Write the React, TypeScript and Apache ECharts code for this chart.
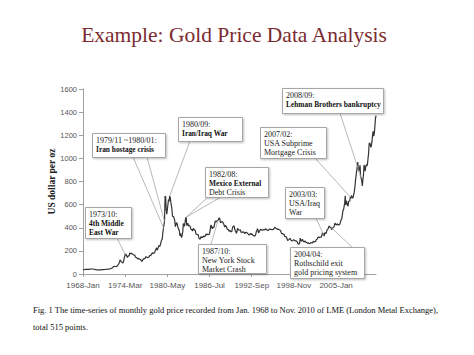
import React, { useEffect, useRef } from 'react';
import * as echarts from 'echarts';

// ---------- data ----------
const monthNames = ['Jan', 'Feb', 'Mar', 'Apr', 'May', 'Jun', 'Jul', 'Aug', 'Sep', 'Oct', 'Nov', 'Dec'];
const firstYear = 1968;
const lastYear = 2010;

const gold1968 = [35.1, 35.2, 37.0, 37.8, 41.0, 41.1, 39.5, 39.3, 39.6, 39.8, 40.3, 41.2];
const gold1969 = [42.3, 42.6, 43.2, 43.4, 43.5, 41.4, 41.8, 41.0, 40.9, 40.4, 37.4, 35.2];
const gold1970 = [34.9, 35.0, 35.1, 35.6, 35.9, 35.4, 35.3, 35.4, 36.2, 37.5, 37.4, 37.4];
const gold1971 = [37.9, 38.7, 38.9, 39.0, 40.5, 40.1, 41.0, 42.7, 42.0, 42.5, 42.9, 43.5];
const gold1972 = [45.7, 48.3, 48.3, 49.0, 54.6, 62.1, 65.7, 67.0, 65.5, 64.9, 62.9, 63.9];
const gold1973 = [65.1, 74.2, 84.4, 90.5, 102.0, 122.5, 120.2, 106.8, 103.0, 100.1, 94.8, 106.7];
const gold1974 = [129.2, 150.2, 168.4, 172.2, 163.3, 154.1, 143.0, 154.6, 151.8, 158.8, 181.7, 183.9];
const gold1975 = [175.8, 180.0, 177.8, 170.0, 167.2, 164.2, 165.2, 163.1, 144.6, 142.8, 142.8, 139.3];
const gold1976 = [131.5, 130.7, 132.6, 128.3, 128.0, 125.5, 117.8, 109.5, 114.0, 116.5, 130.3, 133.9];
const gold1977 = [132.3, 136.3, 148.3, 149.1, 146.5, 140.8, 143.5, 144.8, 149.4, 158.9, 162.1, 160.5];
const gold1978 = [173.2, 178.2, 183.7, 175.3, 176.3, 183.7, 188.7, 206.1, 212.5, 227.1, 206.0, 207.8];
const gold1979 = [227.3, 245.7, 242.1, 239.2, 257.6, 279.1, 294.7, 300.8, 355.1, 391.7, 392.5, 455.1];
const gold1980 = [675.3, 665.3, 553.6, 517.4, 513.8, 600.7, 644.3, 626.5, 673.6, 661.2, 623.5, 594.9];
const gold1981 = [557.5, 500.6, 499.8, 495.8, 479.7, 460.8, 409.3, 410.1, 443.6, 437.8, 413.4, 410.1];
const gold1982 = [384.2, 374.1, 330.5, 350.5, 334.0, 315.0, 338.4, 364.3, 436.9, 422.6, 413.7, 444.3];
const gold1983 = [481.0, 491.8, 419.6, 432.8, 437.4, 413.0, 422.7, 416.3, 412.0, 393.6, 381.8, 388.0];
const gold1984 = [370.9, 386.0, 394.3, 381.0, 377.4, 377.9, 348.1, 347.7, 341.1, 340.2, 341.2, 320.2];
const gold1985 = [302.7, 299.1, 304.0, 324.4, 316.6, 316.2, 317.4, 330.0, 323.5, 326.0, 325.3, 322.3];
const gold1986 = [345.4, 338.9, 345.7, 340.4, 342.4, 342.6, 348.7, 376.5, 417.8, 423.3, 398.5, 391.3];
const gold1987 = [408.3, 401.1, 408.9, 438.4, 460.2, 449.6, 450.5, 460.1, 460.2, 465.4, 467.1, 486.3];
const gold1988 = [477.8, 443.0, 444.1, 452.1, 451.3, 451.5, 437.6, 431.4, 413.6, 406.8, 420.2, 418.6];
const gold1989 = [404.0, 387.0, 390.2, 384.3, 371.0, 367.6, 375.0, 365.4, 362.6, 367.0, 393.6, 409.4];
const gold1990 = [410.1, 416.7, 393.1, 374.2, 369.0, 352.4, 362.5, 394.7, 389.0, 380.7, 381.9, 378.2];
const gold1991 = [383.6, 363.8, 363.3, 358.4, 357.4, 366.7, 367.7, 356.5, 348.8, 358.4, 359.9, 361.0];
const gold1992 = [354.5, 353.9, 344.3, 338.6, 337.2, 340.8, 352.7, 342.9, 345.4, 344.4, 335.0, 334.8];
const gold1993 = [329.0, 329.3, 330.1, 342.2, 367.2, 371.4, 392.0, 379.8, 355.5, 364.2, 373.8, 383.3];
const gold1994 = [387.0, 381.6, 384.1, 377.3, 381.4, 385.6, 385.5, 380.4, 391.6, 389.8, 384.4, 379.3];
const gold1995 = [378.6, 376.5, 382.1, 391.0, 385.1, 387.6, 386.1, 383.5, 383.1, 383.0, 385.5, 387.0];
const gold1996 = [400.0, 404.8, 396.2, 393.0, 391.9, 385.3, 383.5, 387.5, 383.1, 381.2, 377.8, 369.2];
const gold1997 = [355.0, 346.6, 351.8, 344.5, 343.8, 340.8, 324.1, 324.0, 322.8, 324.9, 306.0, 288.7];
const gold1998 = [289.1, 297.5, 295.9, 308.3, 299.4, 292.3, 292.9, 284.1, 289.0, 295.9, 294.1, 291.6];
const gold1999 = [287.2, 287.3, 286.0, 282.4, 276.4, 261.3, 256.2, 256.7, 264.7, 310.7, 293.2, 283.1];
const gold2000 = [284.3, 299.9, 286.4, 279.7, 275.2, 285.7, 281.6, 274.5, 273.7, 270.0, 266.0, 271.5];
const gold2001 = [265.5, 261.9, 263.1, 260.5, 272.4, 270.2, 267.5, 272.4, 283.4, 283.1, 276.2, 275.9];
const gold2002 = [281.7, 295.5, 294.0, 302.7, 314.5, 321.2, 313.3, 310.3, 319.2, 316.6, 319.1, 333.0];
const gold2003 = [356.9, 359.0, 340.6, 328.2, 355.7, 356.4, 351.0, 359.8, 378.9, 378.9, 389.9, 407.6];
const gold2004 = [414.0, 405.3, 406.7, 403.0, 383.8, 392.4, 398.1, 400.5, 405.3, 420.5, 439.4, 442.1];
const gold2005 = [424.0, 423.4, 434.2, 429.2, 421.9, 430.7, 424.5, 437.9, 456.1, 469.9, 476.7, 510.1];
const gold2006 = [549.9, 555.0, 557.1, 610.6, 675.4, 596.2, 633.8, 632.6, 598.2, 585.8, 627.8, 629.8];
const gold2007 = [631.2, 664.8, 654.9, 679.4, 666.9, 655.5, 665.3, 665.4, 712.7, 754.6, 806.2, 803.2];
const gold2008 = [889.6, 922.3, 968.4, 909.7, 888.7, 889.5, 939.8, 839.0, 829.9, 806.6, 760.9, 816.1];
const gold2009 = [858.7, 943.2, 924.3, 890.2, 928.6, 945.7, 934.2, 949.4, 996.6, 1043.2, 1127.0, 1134.7];
const gold2010 = [1117.9, 1095.4, 1113.3, 1148.7, 1205.4, 1232.9, 1193.0, 1215.8, 1270.9, 1342.0, 1369.9];

const goldPrice = [
  ...gold1968, ...gold1969, ...gold1970, ...gold1971, ...gold1972, ...gold1973, ...gold1974,
  ...gold1975, ...gold1976, ...gold1977, ...gold1978, ...gold1979, ...gold1980, ...gold1981,
  ...gold1982, ...gold1983, ...gold1984, ...gold1985, ...gold1986, ...gold1987, ...gold1988,
  ...gold1989, ...gold1990, ...gold1991, ...gold1992, ...gold1993, ...gold1994, ...gold1995,
  ...gold1996, ...gold1997, ...gold1998, ...gold1999, ...gold2000, ...gold2001, ...gold2002,
  ...gold2003, ...gold2004, ...gold2005, ...gold2006, ...gold2007, ...gold2008, ...gold2009,
  ...gold2010,
];

const categories: string[] = [];
for (let y = firstYear; y <= lastYear; y++) {
  for (const m of monthNames) categories.push(`${y}-${m}`);
}
categories.length = goldPrice.length;

const yTicks = { min: 0, max: 1600, interval: 200 };

const titleText = 'Example: Gold Price Data Analysis';
const captionText =
  'Fig. 1 The time-series of monthly gold price recorded from Jan. 1968 to Nov. 2010 of LME (London Metal Exchange),\ntotal 515 points.';

// events: heading, description lines (with bold flags), target months
const eventHeadings = ['1979/11 ~1980/01:', '1980/09:', '1982/08:', '1987/10:', '1973/10:', '2007/02:', '2008/09:', '2003/03:', '2004/04:'];
const eventLines: [string, boolean][][] = [
  [['Iran hostage crisis', true]],
  [['Iran/Iraq War', true]],
  [['Mexico External', true], ['Debt Crisis', false]],
  [['New York Stock', false], ['Market Crash', false]],
  [['4th Middle', true], ['East War', true]],
  [['USA Subprime', false], ['Mortgage Crisis', false]],
  [['Lehman Brothers bankruptcy', true]],
  [['USA/Iraq', false], ['War', false]],
  [['Rothschild exit', false], ['gold pricing system', false]],
];
const eventTargets = [
  ['1979-Nov', '1979-Dec'],
  ['1980-Sep'],
  ['1983-Feb', '1983-Feb'],
  ['1987-Oct'],
  ['1974-Mar'],
  ['2007-Feb'],
  ['2008-Sep'],
  ['2003-Mar'],
  ['2004-Apr'],
];

// ---------- layout (pixels) ----------
const boxLayout = [
  { x: 92, y: 133, w: 73, h: 24, from: [[133, 157], [147, 157]] },
  { x: 178, y: 117, w: 64, h: 24, from: [[190, 141]] },
  { x: 205, y: 167, w: 63, h: 30, from: [[208, 197], [221, 197]] },
  { x: 198, y: 244, w: 68, h: 29, from: [[211, 244]] },
  { x: 85, y: 207, w: 46, h: 31, from: [[117, 238]] },
  { x: 260, y: 127, w: 66, h: 31, from: [[315, 158]] },
  { x: 282, y: 88, w: 101, h: 25, from: [[340, 113]] },
  { x: 285, y: 187, w: 39, h: 31, from: [[316, 218]] },
  { x: 290, y: 247, w: 74, h: 31, from: [[352, 247]] },
];

const SERIF = 'Liberation Serif';
const SANS = 'Liberation Sans';

export default function App() {
  const ref = useRef<HTMLDivElement>(null);

  useEffect(() => {
    document.body.style.margin = '0';
    if (!ref.current) return;
    const chart = echarts.init(ref.current, null, { renderer: 'svg' });

    const markLineData: any[] = [];
    boxLayout.forEach((b, i) => {
      b.from.forEach((p, j) => {
        const cat = eventTargets[i][j];
        const idx = categories.indexOf(cat);
        markLineData.push([{ x: p[0], y: p[1] }, { coord: [cat, goldPrice[idx]] }]);
      });
    });

    const graphics: any[] = [];
    graphics.push({
      type: 'text',
      x: 234,
      y: 35,
      style: {
        text: titleText,
        font: `21.5px ${SERIF}`,
        fill: '#7b2b31',
        align: 'center',
        verticalAlign: 'middle',
      },
    });
    boxLayout.forEach((b, i) => {
      graphics.push({
        type: 'rect',
        z: 100,
        shape: { x: b.x + 0.5, y: b.y + 0.5, width: b.w, height: b.h },
        style: { fill: '#fff', stroke: '#a6a6a6', lineWidth: 1, shadowBlur: 2, shadowColor: 'rgba(0,0,0,0.25)', shadowOffsetX: 1, shadowOffsetY: 1 },
      });
      const lines = [`{r|${eventHeadings[i]}}`, ...eventLines[i].map(([t, bold]) => `{${bold ? 'b' : 'r'}|${t}}`)];
      graphics.push({
        type: 'text',
        z: 101,
        x: b.x + 4,
        y: b.y + 3,
        style: {
          text: lines.join('\n'),
          rich: {
            r: { fontFamily: SERIF, fontSize: 8, lineHeight: 9, fill: '#222' },
            b: { fontFamily: SERIF, fontSize: 7.4, fontWeight: 'bold', lineHeight: 9, fill: '#111' },
          },
        },
      });
    });
    graphics.push({
      type: 'text',
      x: 33,
      y: 301,
      style: {
        text: captionText,
        font: `8.5px ${SERIF}`,
        lineHeight: 17,
        fill: '#111',
      },
    });

    chart.setOption({
      animation: false,
      backgroundColor: '#fff',
      grid: { left: 83, right: 98, top: 89, bottom: 81 },
      xAxis: {
        type: 'category',
        data: categories,
        boundaryGap: false,
        axisLine: { lineStyle: { color: '#a0a0a0' } },
        axisTick: { show: true, interval: 73, length: 3, lineStyle: { color: '#a0a0a0' } },
        axisLabel: { interval: 73, color: '#555', fontFamily: SANS, fontSize: 8, margin: 7 },
      },
      yAxis: {
        type: 'value',
        min: yTicks.min,
        max: yTicks.max,
        interval: yTicks.interval,
        name: 'US dollar per oz',
        nameLocation: 'middle',
        nameRotate: 90,
        nameGap: 26,
        nameMoveOverlap: false,
        nameTextStyle: { fontFamily: SERIF, fontSize: 9.5, fontWeight: 'bold', color: '#222' },
        axisLine: { show: true, lineStyle: { color: '#a0a0a0' } },
        axisTick: { show: true, length: 4, lineStyle: { color: '#a0a0a0' } },
        splitLine: { show: false },
        axisLabel: { color: '#555', fontFamily: SANS, fontSize: 7.5, margin: 6, formatter: (v: number) => String(v) },
      },
      series: [
        {
          type: 'line',
          data: goldPrice,
          showSymbol: false,
          lineStyle: { color: '#333', width: 1.2 },
          markLine: {
            silent: true,
            symbol: ['none', 'none'],
            label: { show: false },
            lineStyle: { color: '#a6a6a6', width: 0.8, type: 'solid' },
            data: markLineData,
          },
        },
      ],
      graphic: graphics,
    });

    return () => chart.dispose();
  }, []);

  return <div ref={ref} style={{ width: 474, height: 355 }} />;
}
